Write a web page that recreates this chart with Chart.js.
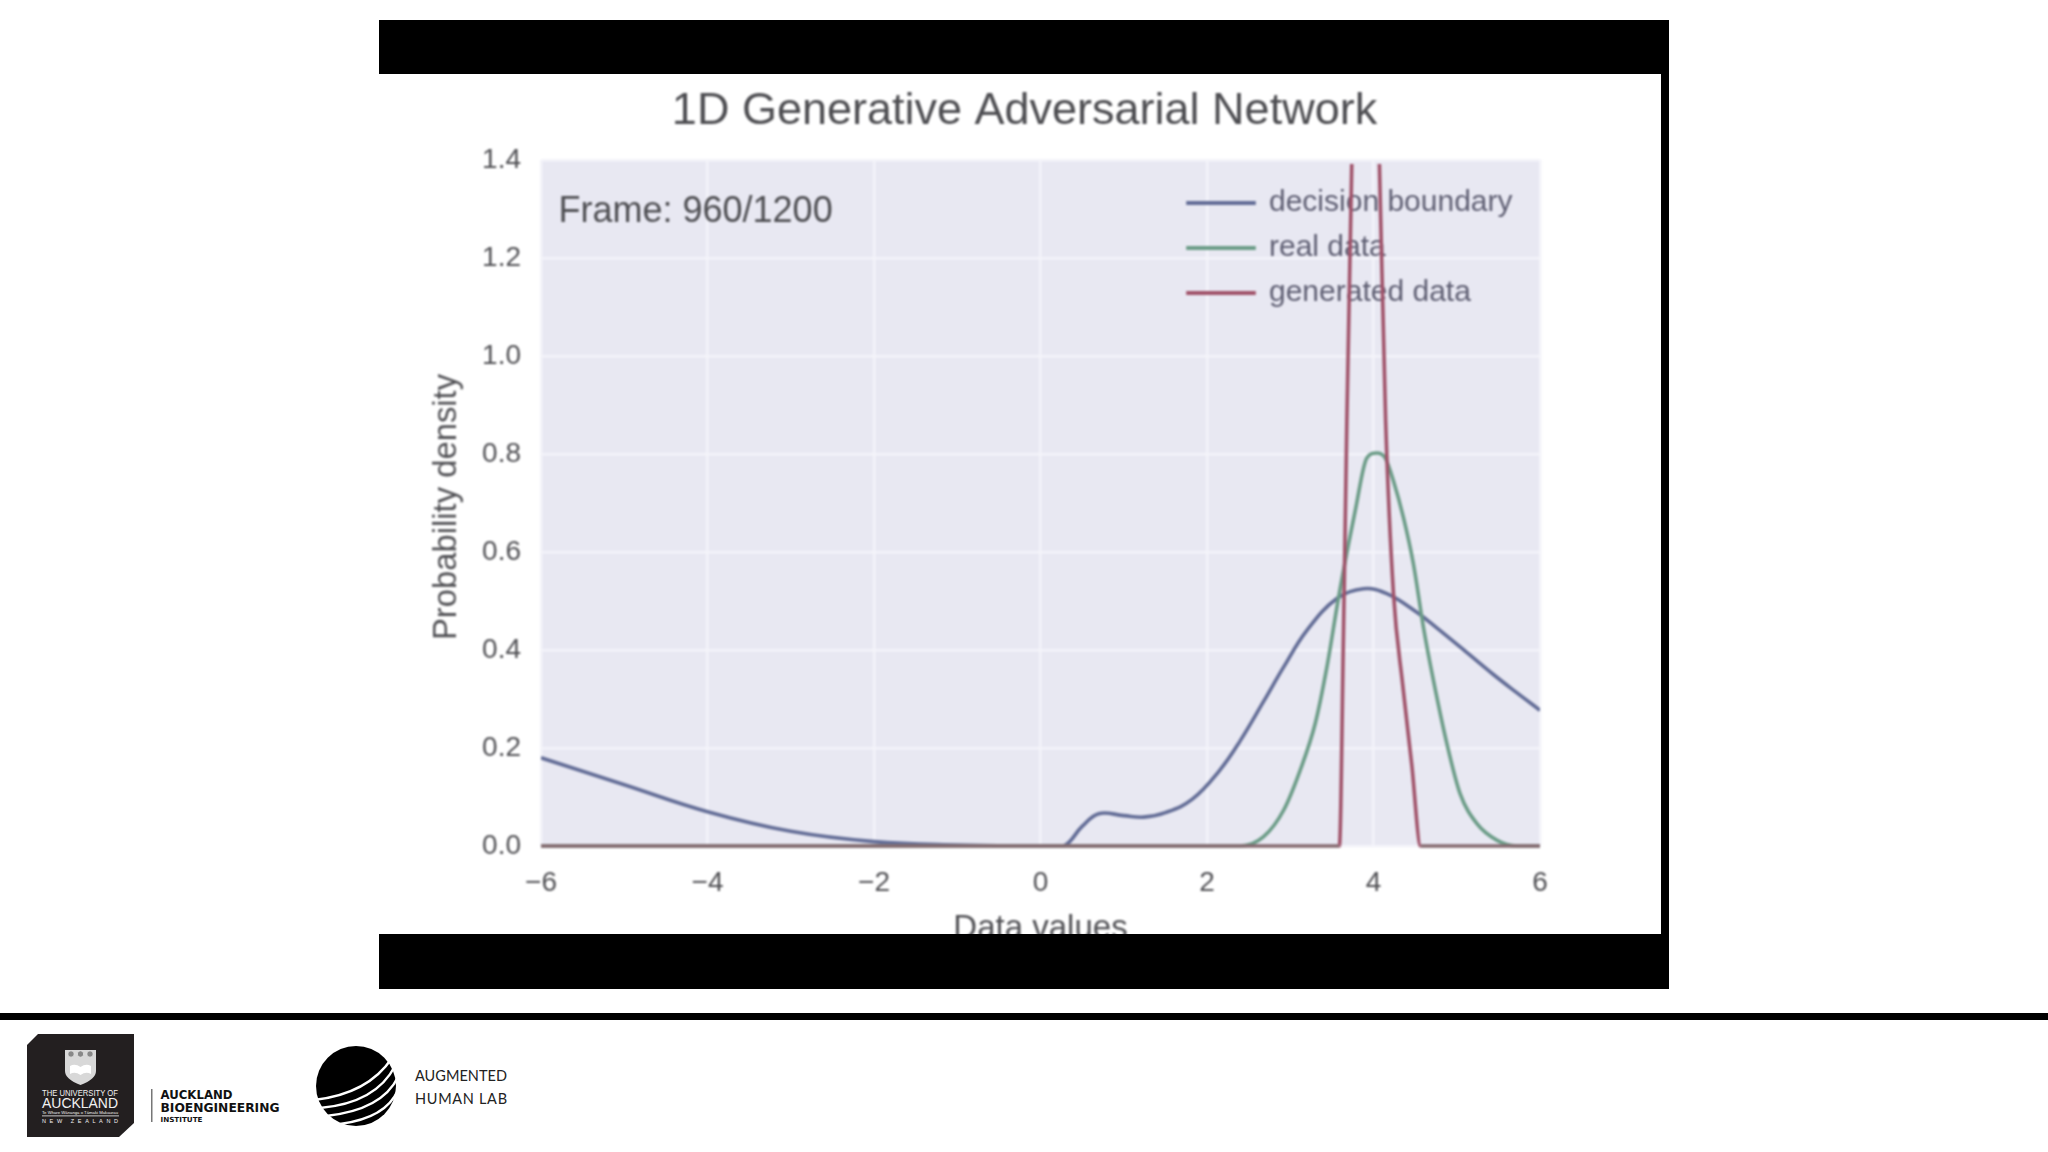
<!DOCTYPE html>
<html>
<head>
<meta charset="utf-8">
<script src="https://cdn.jsdelivr.net/npm/chart.js@4"></script>
<style>
html,body{margin:0;padding:0;background:#fff;width:2048px;height:1152px;overflow:hidden;font-family:"Liberation Sans",Arial,sans-serif}
#wrap{position:absolute;left:389px;top:74px;width:1272px;height:900px;filter:blur(.8px)}
.bar{position:absolute;background:#000;z-index:5}
svg{position:absolute;left:0;top:1020px;z-index:6}
</style>
</head>
<body>
<div class="bar" style="left:379px;top:20px;width:1290px;height:54px"></div>
<div class="bar" style="left:379px;top:934px;width:1290px;height:55px"></div>
<div class="bar" style="left:1661px;top:20px;width:8px;height:969px"></div>
<div class="bar" style="left:0;top:1013px;width:2048px;height:7px"></div>
<div id="wrap"><canvas id="c" width="1272" height="900"></canvas></div>

<svg width="600" height="132" viewBox="0 1020 600 132">
  <polygon points="38,1034 134,1034 134,1123 119,1137 27,1137 27,1045" fill="#231f20"/>
  <path d="M65,1050 H96 V1071 Q96,1079 80.500,1085 Q65,1079 65,1071 Z" fill="#d8d8d8"/>
  <circle cx="71" cy="1054" r="3.200" fill="#888" stroke="#eee" stroke-width=".7"/>
  <circle cx="80.500" cy="1054" r="3.200" fill="#888" stroke="#eee" stroke-width=".7"/>
  <circle cx="90" cy="1054" r="3.200" fill="#888" stroke="#eee" stroke-width=".7"/>
  <path d="M70,1066 Q75,1063 80.500,1067 Q86,1063 91,1066 V1074 Q86,1071 80.500,1075 Q75,1071 70,1074 Z" fill="#fff"/>
  <g fill="#f2f2f2" text-anchor="middle" font-family="'Liberation Sans',Arial,sans-serif">
    <text x="80" y="1096" font-size="8.500" textLength="76" lengthAdjust="spacingAndGlyphs">THE UNIVERSITY OF</text>
    <text x="80" y="1108" font-size="14" textLength="76" lengthAdjust="spacingAndGlyphs">AUCKLAND</text>
    <text x="80" y="1113.500" font-size="3.600" textLength="76" lengthAdjust="spacingAndGlyphs">Te Whare Wānanga o Tāmaki Makaurau</text>
    <rect x="42" y="1115.500" width="77" height=".8"/>
    <text x="80" y="1122.500" font-size="5.500" textLength="76">NEW ZEALAND</text>
  </g>
  <rect x="151" y="1089" width="1.500" height="33" fill="#777"/>
  <g fill="#111" font-family="'DejaVu Sans',sans-serif" font-weight="700">
    <text x="160.500" y="1099" font-size="11.500" textLength="72" lengthAdjust="spacingAndGlyphs">AUCKLAND</text>
    <text x="160.500" y="1111.500" font-size="11.500" textLength="119" lengthAdjust="spacingAndGlyphs">BIOENGINEERING</text>
    <text x="160.500" y="1122" font-size="7" textLength="42" lengthAdjust="spacingAndGlyphs">INSTITUTE</text>
  </g>
  <g transform="translate(356,1086)">
    <circle r="40" fill="#000"/>
    <g fill="none" stroke="#fff" stroke-width="2.400">
      <path d="M-42,14 Q12,8 36,-28"/>
      <path d="M-36,22 Q20,17 39,-20"/>
      <path d="M-30,30 Q26,24 42,-9"/>
      <path d="M-16,38 Q30,32 42,4"/>
    </g>
  </g>
  <g fill="#222" font-family="Lato,'Liberation Sans',sans-serif" font-size="14.500">
    <text x="415" y="1081" textLength="92">AUGMENTED</text>
    <text x="415" y="1104" textLength="92">HUMAN LAB</text>
  </g>
</svg>

<script>
const chartTitle = "1D Generative Adversarial Network";
const xAxisTitle = "Data values";
const yAxisTitle = "Probability density";
const frameLabel = "Frame: 960/1200";
const seriesNames = ["decision boundary", "real data", "generated data"];
const xTickValues = [-6, -4, -2, 0, 2, 4, 6];
const yTickValues = [0, 0.2, 0.4, 0.6, 0.8, 1.0, 1.2, 1.4];

const decisionX = [-6, -5, -4, -3, -2, -1, 0, 0.28, 0.5, 0.7, 1.0, 1.24, 1.5, 1.82, 2.15, 2.4, 2.68, 2.92, 3.2, 3.56, 3.88, 4.16, 4.52, 4.76, 5.12, 5.44, 5.72, 6];
const decisionY = [0.18, 0.125, 0.07, 0.03, 0.009, 0.002, 0, 0, 0.04, 0.066, 0.062, 0.059, 0.068, 0.095, 0.154, 0.215, 0.295, 0.365, 0.44, 0.505, 0.525, 0.515, 0.477, 0.445, 0.395, 0.35, 0.313, 0.277];

const realX = [-6, 2.4, 2.68, 2.92, 3.12, 3.3, 3.44, 3.58, 3.7, 3.78, 3.92, 4.04, 4.14, 4.24, 4.36, 4.48, 4.6, 4.72, 4.88, 5.04, 5.24, 5.48, 5.72, 6];
const realY = [0, 0, 0.019, 0.073, 0.155, 0.25, 0.365, 0.507, 0.616, 0.684, 0.792, 0.802, 0.792, 0.745, 0.67, 0.575, 0.446, 0.338, 0.21, 0.107, 0.046, 0.012, 0, 0];

const generatedX = [-6, 3.59, 3.64, 3.68, 3.74, 3.9, 4.07, 4.146, 4.24, 4.35, 4.46, 4.567, 6];
const generatedY = [0, 0, 0.44, 0.87, 1.4, 2.4, 1.4, 0.867, 0.515, 0.33, 0.165, 0, 0];

const seriesColors = ["#626c96", "#6b9c87", "#a05269"];
const baselineColor = "#85696f";
const toPoints = (xs, ys) => xs.map((x, i) => ({x, y: ys[i]}));
const textColor = "#505054";
const fam = "'Liberation Sans', Arial, sans-serif";

const placeOverlay = {
  id: "placeOverlay",
  afterLayout(chart) {
    const l = chart.legend;
    l.left = chart.chartArea.right - 367;
    l.top = chart.chartArea.top + 13;
    chart.titleBlock.left += 41;
    chart.titleBlock.right += 41;
    chart.scales.y.top += 4;
    chart.scales.y.bottom += 4;
  },
  beforeDatasetsDraw(chart) {
    const {ctx, scales} = chart;
    ctx.save();
    ctx.fillStyle = "#4e4e52";
    ctx.font = "36px " + fam;
    ctx.textBaseline = "middle";
    ctx.fillText(frameLabel, scales.x.getPixelForValue(-5.79), scales.y.getPixelForValue(1.294));
    ctx.restore();
  }
};
const plotBackground = {
  id: "plotBackground",
  beforeDraw(chart) {
    const {ctx, chartArea: a} = chart;
    ctx.save();
    ctx.fillStyle = "#e8e8f2";
    ctx.fillRect(a.left, a.top, a.right - a.left, a.bottom - a.top);
    ctx.restore();
  }
};

new Chart(document.getElementById("c"), {
  type: "scatter",
  plugins: [plotBackground, placeOverlay],
  data: {
    datasets: [
      {label: seriesNames[0], order: 2, cubicInterpolationMode: "default", tension: 0.4, data: toPoints(decisionX, decisionY), borderColor: seriesColors[0], backgroundColor: seriesColors[0]},
      {label: seriesNames[1], order: 1, data: toPoints(realX, realY), borderColor: seriesColors[1], backgroundColor: seriesColors[1]},
      {label: seriesNames[2], order: 0, data: toPoints(generatedX, generatedY), borderColor: seriesColors[2], backgroundColor: seriesColors[2],
       segment: {borderColor: ctx => (ctx.p0.parsed.y === 0 && ctx.p1.parsed.y === 0) ? baselineColor : undefined}}
    ].map(d => Object.assign({showLine: true, pointRadius: 0, borderWidth: 3.6, cubicInterpolationMode: "monotone"}, d))
  },
  options: {
    responsive: false,
    animation: false,
    layout: {padding: {left: 38, right: 121, top: 0, bottom: 25}},
    plugins: {
      tooltip: {enabled: false},
      title: {display: true, text: chartTitle, color: "#4e4e52", font: {family: fam, size: 45, weight: "normal"}, padding: {top: 11, bottom: 21}},
      legend: {
        position: "chartArea", align: "start",
        labels: {color: "#5e5e72", boxWidth: 66, boxHeight: 0.5, padding: 15, font: {family: fam, size: 30}, sort: (a, b) => a.datasetIndex - b.datasetIndex}
      }
    },
    scales: {
      x: {
        type: "linear", min: -6, max: 6,
        afterBuildTicks(s) { s.ticks = xTickValues.map(value => ({value})); },
        afterFit(s) { s.height = 103; },
        grid: {color: "#f4f4fa", lineWidth: 2.5, drawTicks: false},
        border: {display: false},
        ticks: {color: textColor, padding: 20, maxRotation: 0, font: {family: fam, size: 28}, callback: v => String(v).replace("-", "\u2212")},
        title: {display: true, text: xAxisTitle, color: textColor, padding: {top: 6, bottom: 0}, font: {family: fam, size: 33}}
      },
      y: {
        min: 0, max: 1.4,
        afterBuildTicks(s) { s.ticks = yTickValues.map(value => ({value})); },
        afterFit(s) { s.width = 114; },
        grid: {color: "#f4f4fa", lineWidth: 2.5, drawTicks: false},
        border: {display: false},
        ticks: {color: textColor, padding: 20, font: {family: fam, size: 28}, callback: v => v.toFixed(1)},
        title: {display: true, text: yAxisTitle, color: textColor, padding: 0, font: {family: fam, size: 32.8}}
      }
    }
  }
});
</script>
</body>
</html>
